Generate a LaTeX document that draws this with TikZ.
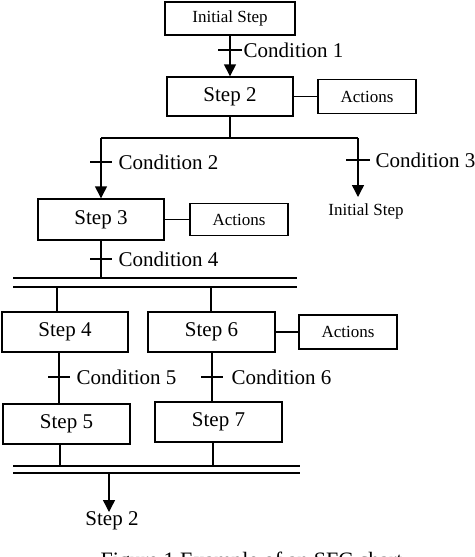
\documentclass[tikz,border=0pt]{standalone}
\usepackage{fontspec}
\setmainfont{Liberation Serif}
\usepackage{tikz}
\usetikzlibrary{arrows.meta,positioning,calc}

\begin{document}
\begin{tikzpicture}[x=1pt,y=-1pt,line width=1.4pt,>={Triangle[length=12pt,width=12pt]},
  stepbox/.style={draw,minimum width=126pt,minimum height=40pt,inner sep=0pt,font=\fontsize{21}{25}\selectfont},
  actbox/.style={draw,minimum width=98pt,minimum height=34pt,inner sep=0pt,font=\fontsize{17}{20}\selectfont},
  cond/.style={inner sep=0pt,font=\fontsize{21}{25}\selectfont},
  smalltext/.style={inner sep=0pt,font=\fontsize{17}{20}\selectfont}]
\useasboundingbox (0,0) rectangle (474,557);
\clip (0,0) rectangle (474,557);
% initial step and step 2
\node[stepbox,minimum width=130pt,minimum height=33pt,font=\fontsize{17}{20}\selectfont] (init) at (230,18.5) {Initial Step};
\node[stepbox,minimum height=39pt] (s2) at (230,96.5) {Step 2};
\node[actbox] (a2) at (367,96.5) {Actions};
\draw (s2.east) -- (a2.west);
\coordinate (t1) at (230,50);
\draw[->] (init.south) -- (s2.north);
\draw (t1) ++(-12,0) -- ++(24,0);
\node[cond,right=13pt of t1] (c1) {Condition 1};
% divergence after step 2
\coordinate (br) at (230,138); \coordinate (bl) at (101,138); \coordinate (bR) at (358,138);
\draw (s2.south) -- (br); \draw (bl) -- (bR);
\node[stepbox,minimum height=41pt] (s3) at (101,219.5) {Step 3};
\node[actbox,minimum height=32pt] (a3) at (239,219.5) {Actions};
\draw (s3.east) -- (a3.west);
\draw[->] (bl) -- (s3.north);
\coordinate (t2) at (101,162);
\draw (t2) ++(-11,0) -- ++(22,0);
\node[cond,right=17pt of t2] (c2) {Condition 2};
\coordinate (e3) at (358,197);
\draw[->] (bR) -- (e3);
\coordinate (t3) at (358,160);
\draw (t3) ++(-12,0) -- ++(24,0);
\node[cond,right=17pt of t3] (c3) {Condition 3};
\node[smalltext] (i1) at (366,211) {Initial Step};
% condition 4 and simultaneous divergence
\coordinate (d1l) at (13,278); \coordinate (d1r) at (297,278);
\coordinate (d2l) at (13,287); \coordinate (d2r) at (297,287);
\draw (d1l) -- (d1r); \draw (d2l) -- (d2r);
\draw (s3.south) -- (s3.south |- d1l);
\coordinate (t4) at (101,259);
\draw (t4) ++(-11,0) -- ++(22,0);
\node[cond,right=17pt of t4] (c4) {Condition 4};
\node[stepbox] (s4) at (65,332) {Step 4};
\node[stepbox,minimum width=127pt] (s6) at (211.5,332) {Step 6};
\node[actbox] (a6) at (348,332) {Actions};
\draw (s6.east) -- (a6.west);
\coordinate (b4) at (57,287); \coordinate (b6) at (211,287);
\draw (b4) -- (b4 |- s4.north); \draw (b6) -- (b6 |- s6.north);
% steps 5 and 7
\node[stepbox,minimum width=127pt] (s5) at (66.5,424) {Step 5};
\node[stepbox,minimum width=127pt] (s7) at (218.5,422) {Step 7};
\coordinate (t5) at (59,377); \coordinate (t6) at (212,377);
\draw (t5 |- s4.south) -- (t5 |- s5.north);
\draw (t6 |- s6.south) -- (t6 |- s7.north);
\draw (t5) ++(-11,0) -- ++(22,0);
\draw (t6) ++(-11,0) -- ++(22,0);
\node[cond,right=17pt of t5] (c5) {Condition 5};
\node[cond,right=19pt of t6] (c6) {Condition 6};
% simultaneous convergence
\coordinate (g1l) at (13,466); \coordinate (g1r) at (300,466);
\coordinate (g2l) at (13,473); \coordinate (g2r) at (300,473);
\draw (g1l) -- (g1r); \draw (g2l) -- (g2r);
\coordinate (m5) at (60,466); \coordinate (m7) at (213,466);
\draw (m5 |- s5.south) -- (m5); \draw (m7 |- s7.south) -- (m7);
\coordinate (f) at (109,473); \coordinate (fe) at (109,512);
\draw[->] (f) -- (fe);
\node[cond] (back) at (112,521) {Step 2};
\node[anchor=base west,inner sep=0pt,font=\fontsize{22}{26}\selectfont] (cap) at (100,567) {Figure 1 Example of an SFC chart};
\end{tikzpicture}
\end{document}
